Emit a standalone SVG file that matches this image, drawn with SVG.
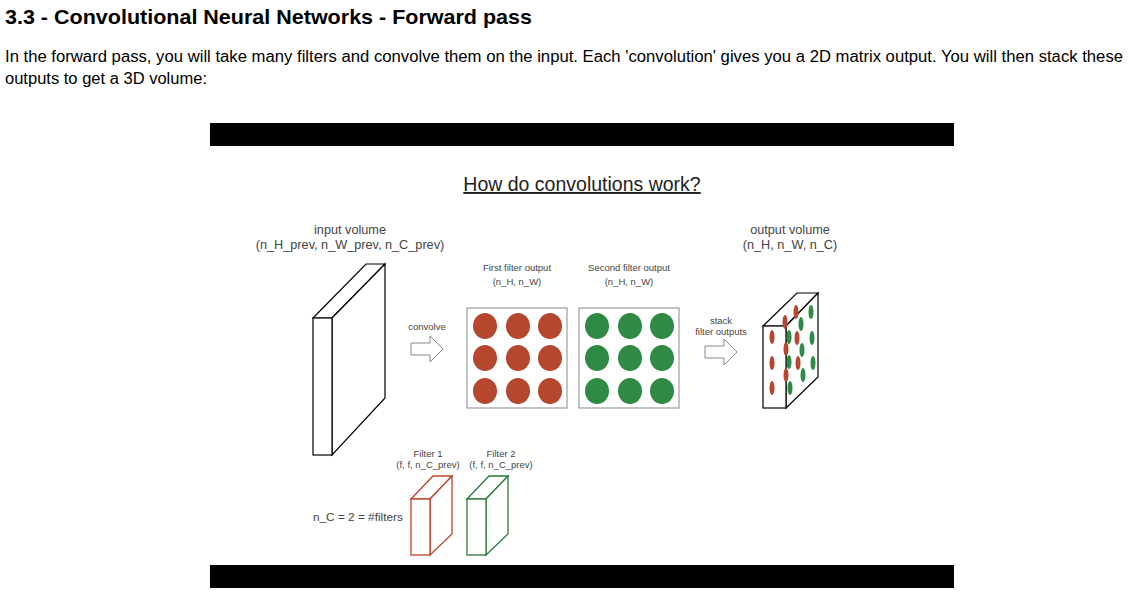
<svg xmlns="http://www.w3.org/2000/svg" width="1142" height="601" viewBox="0 0 1142 601">
<style>
.h{font-family:"Liberation Sans",Arial,sans-serif;font-weight:bold;font-size:20.5px;fill:#000}
.p{font-family:"Liberation Sans",Arial,sans-serif;font-size:16px;fill:#000}
.t{font-family:"Liberation Sans",Arial,sans-serif;font-size:12.7px;fill:#444;text-anchor:middle}
.s{font-family:"Liberation Sans",Arial,sans-serif;font-size:11.3px;fill:#444;text-anchor:middle}
.f{font-family:"Liberation Sans",Arial,sans-serif;font-size:9.5px;fill:#444;text-anchor:middle}
.k{fill:#fff;stroke:#000;stroke-width:1.2}
.box{fill:#fff;stroke:#888;stroke-width:1}
.r{fill:#b5472f}.g{fill:#2f8a46}
.arr{fill:#fff;stroke:#888;stroke-width:1}
</style>
<rect width="1142" height="601" fill="#fff"/>
<text class="h" x="5" y="24" textLength="527" lengthAdjust="spacingAndGlyphs">3.3 - Convolutional Neural Networks - Forward pass</text>
<text class="p" x="5" y="62" textLength="1118" lengthAdjust="spacingAndGlyphs">In the forward pass, you will take many filters and convolve them on the input. Each 'convolution' gives you a 2D matrix output. You will then stack these</text>
<text class="p" x="5" y="84" textLength="202" lengthAdjust="spacingAndGlyphs">outputs to get a 3D volume:</text>
<rect x="210" y="123" width="744" height="23" fill="#000"/>
<rect x="210" y="565" width="744" height="23" fill="#000"/>
<text x="582" y="191" font-family="Liberation Sans,Arial,sans-serif" font-size="19.5" fill="#222" text-anchor="middle" text-decoration="underline">How do convolutions work?</text>
<g id="input">
<text class="t" x="350" y="234">input volume</text>
<text class="t" x="350" y="249">(n_H_prev, n_W_prev, n_C_prev)</text>
<polygon class="k" points="313,318 366,264 385,264 332,318"/>
<polygon class="k" points="332,318 385,264 385,398 332,455"/>
<rect class="k" x="313" y="318" width="19" height="137"/>
</g>
<g id="connectors">
<text class="f" x="427" y="330" font-size="10">convolve</text>
<polygon class="arr" points="411,343 430,343 430,336 443,349 430,362 430,355 411,355"/>
<text class="f" x="721" y="324">stack</text>
<text class="f" x="721" y="335">filter outputs</text>
<polygon class="arr" points="705,346 724,346 724,339 737,352 724,365 724,358 705,358"/>
</g>
<g id="out1">
<text class="f" x="517" y="271" font-size="11">First filter output</text>
<text class="f" x="517" y="285" font-size="11">(n_H, n_W)</text>
<rect class="box" x="467" y="308" width="100" height="100"/>
<g class="r">
<ellipse cx="485" cy="326" rx="12" ry="13"/><ellipse cx="518" cy="326" rx="12" ry="13"/><ellipse cx="550" cy="326" rx="12" ry="13"/>
<ellipse cx="485" cy="358" rx="12" ry="13"/><ellipse cx="518" cy="358" rx="12" ry="13"/><ellipse cx="550" cy="358" rx="12" ry="13"/>
<ellipse cx="485" cy="391" rx="12" ry="13"/><ellipse cx="518" cy="391" rx="12" ry="13"/><ellipse cx="550" cy="391" rx="12" ry="13"/>
</g>
</g>
<g id="out2">
<text class="f" x="629" y="271" font-size="11">Second filter output</text>
<text class="f" x="629" y="285" font-size="11">(n_H, n_W)</text>
<rect class="box" x="579" y="308" width="100" height="100"/>
<g class="g">
<ellipse cx="597" cy="326" rx="12" ry="13"/><ellipse cx="630" cy="326" rx="12" ry="13"/><ellipse cx="662" cy="326" rx="12" ry="13"/>
<ellipse cx="597" cy="358" rx="12" ry="13"/><ellipse cx="630" cy="358" rx="12" ry="13"/><ellipse cx="662" cy="358" rx="12" ry="13"/>
<ellipse cx="597" cy="391" rx="12" ry="13"/><ellipse cx="630" cy="391" rx="12" ry="13"/><ellipse cx="662" cy="391" rx="12" ry="13"/>
</g>
</g>
<g id="output">
<text class="t" x="790" y="234">output volume</text>
<text class="t" x="790" y="249">(n_H, n_W, n_C)</text>
<polygon class="k" points="763,326 797,293 818,293 786,326"/>
<polygon class="k" points="786,326 818,293 818,377 786,408"/>
<rect class="k" x="763" y="326" width="23" height="82"/>
<g class="r">
<ellipse cx="772" cy="337" rx="2.5" ry="7"/><ellipse cx="772" cy="363" rx="2.5" ry="7"/><ellipse cx="772" cy="388" rx="2.5" ry="7"/>
<ellipse cx="785" cy="322" rx="2.5" ry="7"/><ellipse cx="786" cy="349" rx="2.5" ry="7"/><ellipse cx="786" cy="375" rx="2.5" ry="7"/>
<ellipse cx="796" cy="312" rx="2.5" ry="7"/><ellipse cx="797" cy="338" rx="2.5" ry="7"/><ellipse cx="798" cy="363" rx="2.5" ry="7"/>
</g>
<g class="g">
<ellipse cx="789" cy="337" rx="2.5" ry="7"/><ellipse cx="789" cy="362" rx="2.5" ry="7"/><ellipse cx="790" cy="388" rx="2.5" ry="7"/>
<ellipse cx="801" cy="324" rx="2.5" ry="7"/><ellipse cx="802" cy="350" rx="2.5" ry="7"/><ellipse cx="803" cy="375" rx="2.5" ry="7"/>
<ellipse cx="811" cy="312" rx="2.5" ry="7"/><ellipse cx="812" cy="338" rx="2.5" ry="7"/><ellipse cx="813" cy="363" rx="2.5" ry="7"/>
</g>
</g>
<g id="filter1">
<text class="f" x="428" y="457">Filter 1</text>
<text class="f" x="428" y="468">(f, f, n_C_prev)</text>
<g fill="#fff" stroke="#c0442a" stroke-width="1.3">
<polygon points="411,499 433,476 452,476 430,499"/>
<polygon points="430,499 452,476 452,534 430,555"/>
<rect x="411" y="499" width="19" height="56"/>
</g>
</g>
<g id="filter2">
<text class="f" x="501" y="457">Filter 2</text>
<text class="f" x="501" y="468">(f, f, n_C_prev)</text>
<g fill="#fff" stroke="#2a7a3a" stroke-width="1.3">
<polygon points="467,499 489,476 508,476 486,499"/>
<polygon points="486,499 508,476 508,534 486,555"/>
<rect x="467" y="499" width="19" height="56"/>
</g>
</g>
<text x="313" y="521" font-family="Liberation Sans,Arial,sans-serif" font-size="11.8" fill="#444">n_C = 2 = #filters</text>
</svg>
